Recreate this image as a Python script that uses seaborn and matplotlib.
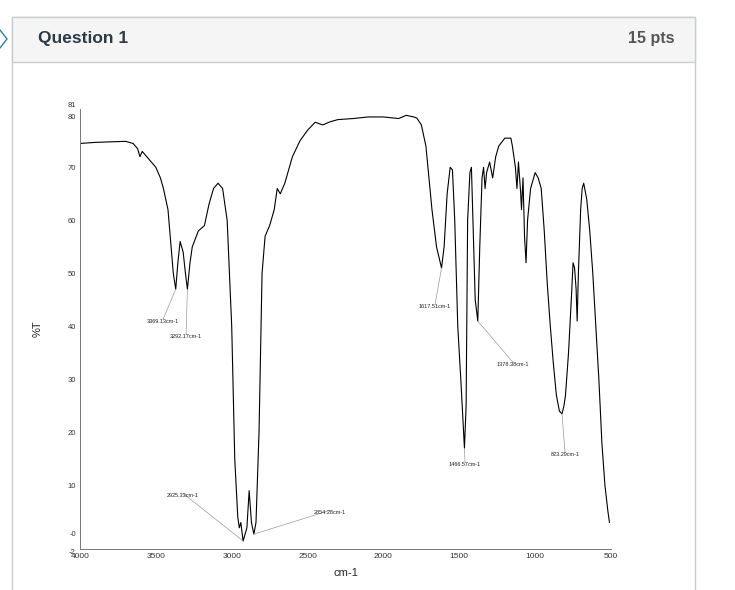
import matplotlib
matplotlib.use("Agg")
import matplotlib.pyplot as plt
from matplotlib.patches import Rectangle
from matplotlib.lines import Line2D
import seaborn as sns
import pandas as pd

wavenumber = [4000, 3900, 3800, 3700, 3650, 3620, 3605, 3590, 3560, 3530, 3500, 3470, 3450, 3420,
              3400, 3385, 3369, 3355, 3340, 3320, 3305, 3292, 3275, 3260, 3220, 3180, 3150, 3120,
              3090, 3060, 3030, 3000, 2980, 2960, 2950, 2940, 2925, 2910, 2900, 2885, 2870, 2854,
              2840, 2820, 2800, 2780, 2750, 2720, 2700, 2680, 2650, 2600, 2550, 2500, 2450, 2400,
              2350, 2300, 2200, 2100, 2000, 1900, 1850, 1800, 1780, 1750, 1720, 1700, 1680, 1650,
              1617, 1600, 1580, 1560, 1545, 1530, 1510, 1490, 1466, 1455, 1445, 1430, 1420, 1410,
              1395, 1378, 1365, 1350, 1340, 1330, 1320, 1300, 1280, 1260, 1240, 1200, 1160, 1150,
              1130, 1120, 1110, 1095, 1090, 1080, 1070, 1060, 1050, 1030, 1000, 980, 960, 940,
              920, 900, 880, 860, 840, 823, 810, 800, 780, 760, 750, 740, 730, 723, 715, 700,
              690, 680, 660, 640, 620, 600, 580, 560, 540, 520, 510]
transmittance = [74.5, 74.7, 74.8, 74.9, 74.5, 73.5, 72.0, 73.0, 72.0, 71.0, 70.0, 68.0, 66.0, 62.0,
                 55.0, 50.0, 47.0, 52.0, 56.0, 54.0, 50.0, 47.0, 52.0, 55.0, 58.0, 59.0, 63.0, 66.0,
                 67.0, 66.0, 60.0, 40.0, 15.0, 4.0, 2.0, 3.0, -0.5, 1.0, 2.0, 9.0, 3.0, 0.8,
                 3.0, 20.0, 50.0, 57.0, 59.0, 62.0, 66.0, 65.0, 67.0, 72.0, 75.0, 77.0, 78.5, 78.0,
                 78.6, 79.0, 79.2, 79.5, 79.5, 79.2, 79.8, 79.5, 79.3, 78.0, 74.0, 68.0, 62.0, 55.0,
                 51.0, 55.0, 65.0, 70.0, 69.5, 60.0, 40.0, 30.0, 17.0, 25.0, 60.0, 69.0, 70.0, 60.0,
                 45.0, 41.0, 55.0, 68.0, 70.0, 66.0, 69.0, 71.0, 68.0, 72.0, 74.0, 75.5, 75.5, 74.0,
                 70.0, 66.0, 71.0, 65.0, 62.0, 68.0, 57.0, 52.0, 60.0, 66.0, 69.0, 68.0, 66.0, 58.0,
                 48.0, 40.0, 33.0, 27.0, 24.0, 23.5, 25.0, 27.0, 35.0, 46.0, 52.0, 51.0, 47.0, 41.0,
                 50.0, 62.0, 66.0, 67.0, 64.0, 58.0, 50.0, 40.0, 30.0, 18.0, 10.0, 5.0, 3.0]

peak_labels = ["3369.13cm-1", "3292.17cm-1", "2925.33cm-1", "2854.28cm-1",
               "1617.51cm-1", "1378.38cm-1", "1466.57cm-1", "823.29cm-1"]
peak_x = [3369, 3292, 2925, 2854, 1617, 1378, 1466, 823]
peak_y = [47.0, 47.0, -0.5, 0.8, 51.0, 41.0, 17.0, 23.5]
label_x = [3453, 3301, 3321, 2352, 1660, 1146, 1462, 803]
label_y = [40.9, 38.0, 8.1, 4.9, 43.7, 32.8, 13.9, 15.8]

xticks = [4000, 3500, 3000, 2500, 2000, 1500, 1000, 500]
yticks = [-2, 0, 10, 20, 30, 40, 50, 60, 70, 80, 81]
ytick_labels = ["-2", "-0", "10", "20", "30", "40", "50", "60", "70", "80", "81"]

sns.set_style("white")
plt.rcParams['font.family'] = ['Liberation Sans', 'DejaVu Sans']

fig = plt.figure(figsize=(7.35, 5.9), dpi=100)
W, H = 735, 590

def fx(px): return px / W
def fy(py): return 1 - py / H

# page chrome (behind the axes)
fig.patches.append(Rectangle((fx(12), fy(600)), fx(695) - fx(12), fy(17) - fy(600),
                             transform=fig.transFigure, facecolor="white", edgecolor="#c7cdd1",
                             lw=1, zorder=-10))
fig.patches.append(Rectangle((fx(12), fy(62)), fx(695) - fx(12), fy(17) - fy(62),
                             transform=fig.transFigure, facecolor="#f5f5f5", edgecolor="#c7cdd1",
                             lw=1, zorder=-9))
fig.lines.append(Line2D([fx(0), fx(7), fx(0)], [fy(30), fy(39), fy(48)], transform=fig.transFigure,
                        color="#2d7fb8", lw=1))
fig.text(fx(38), fy(39), "Question 1", fontsize=12.5, fontweight="bold", color="#2d3b45", va="center")
fig.text(fx(675), fy(39), "15 pts", fontsize=11.5, fontweight="bold", color="#555555", va="center", ha="right")

ax = fig.add_axes([fx(80), fy(549), fx(611) - fx(80), fy(109) - fy(549)])
ax.patch.set_alpha(0)
df = pd.DataFrame({"wn": wavenumber, "T": transmittance})
sns.lineplot(data=df, x="wn", y="T", sort=False, estimator=None, color="black", lw=0.8, ax=ax)
ax.set_xlim(4000, 500)
ax.set_ylim(-2, 81)
ax.set_xticks(xticks)
ax.set_xticklabels([str(t) for t in xticks], fontsize=6)
ax.set_yticks(yticks)
ax.set_yticklabels(ytick_labels, fontsize=5.5)
ylabs = ax.get_yticklabels()
ylabs[-1].set_va("bottom")
ylabs[-2].set_va("top")
ylabs[0].set_va("top")
ylabs[1].set_va("bottom")
ax.tick_params(length=2, width=0.6, pad=1, colors="#333333")
for s in ["top", "right"]:
    ax.spines[s].set_visible(False)
for s in ["left", "bottom"]:
    ax.spines[s].set_color("#777777")
    ax.spines[s].set_linewidth(0.7)
ax.set_xlabel("cm-1", fontsize=8, labelpad=6)
ax.set_ylabel("%T", fontsize=8, labelpad=18)

for lab, px_, py_, lx, ly in zip(peak_labels, peak_x, peak_y, label_x, label_y):
    ax.plot([lx, px_], [ly + 0.4, py_], color="#999999", lw=0.5)
    ax.text(lx, ly, lab, fontsize=4, ha="center", va="center", color="#222222")

fig.savefig("out.png", dpi=100)
